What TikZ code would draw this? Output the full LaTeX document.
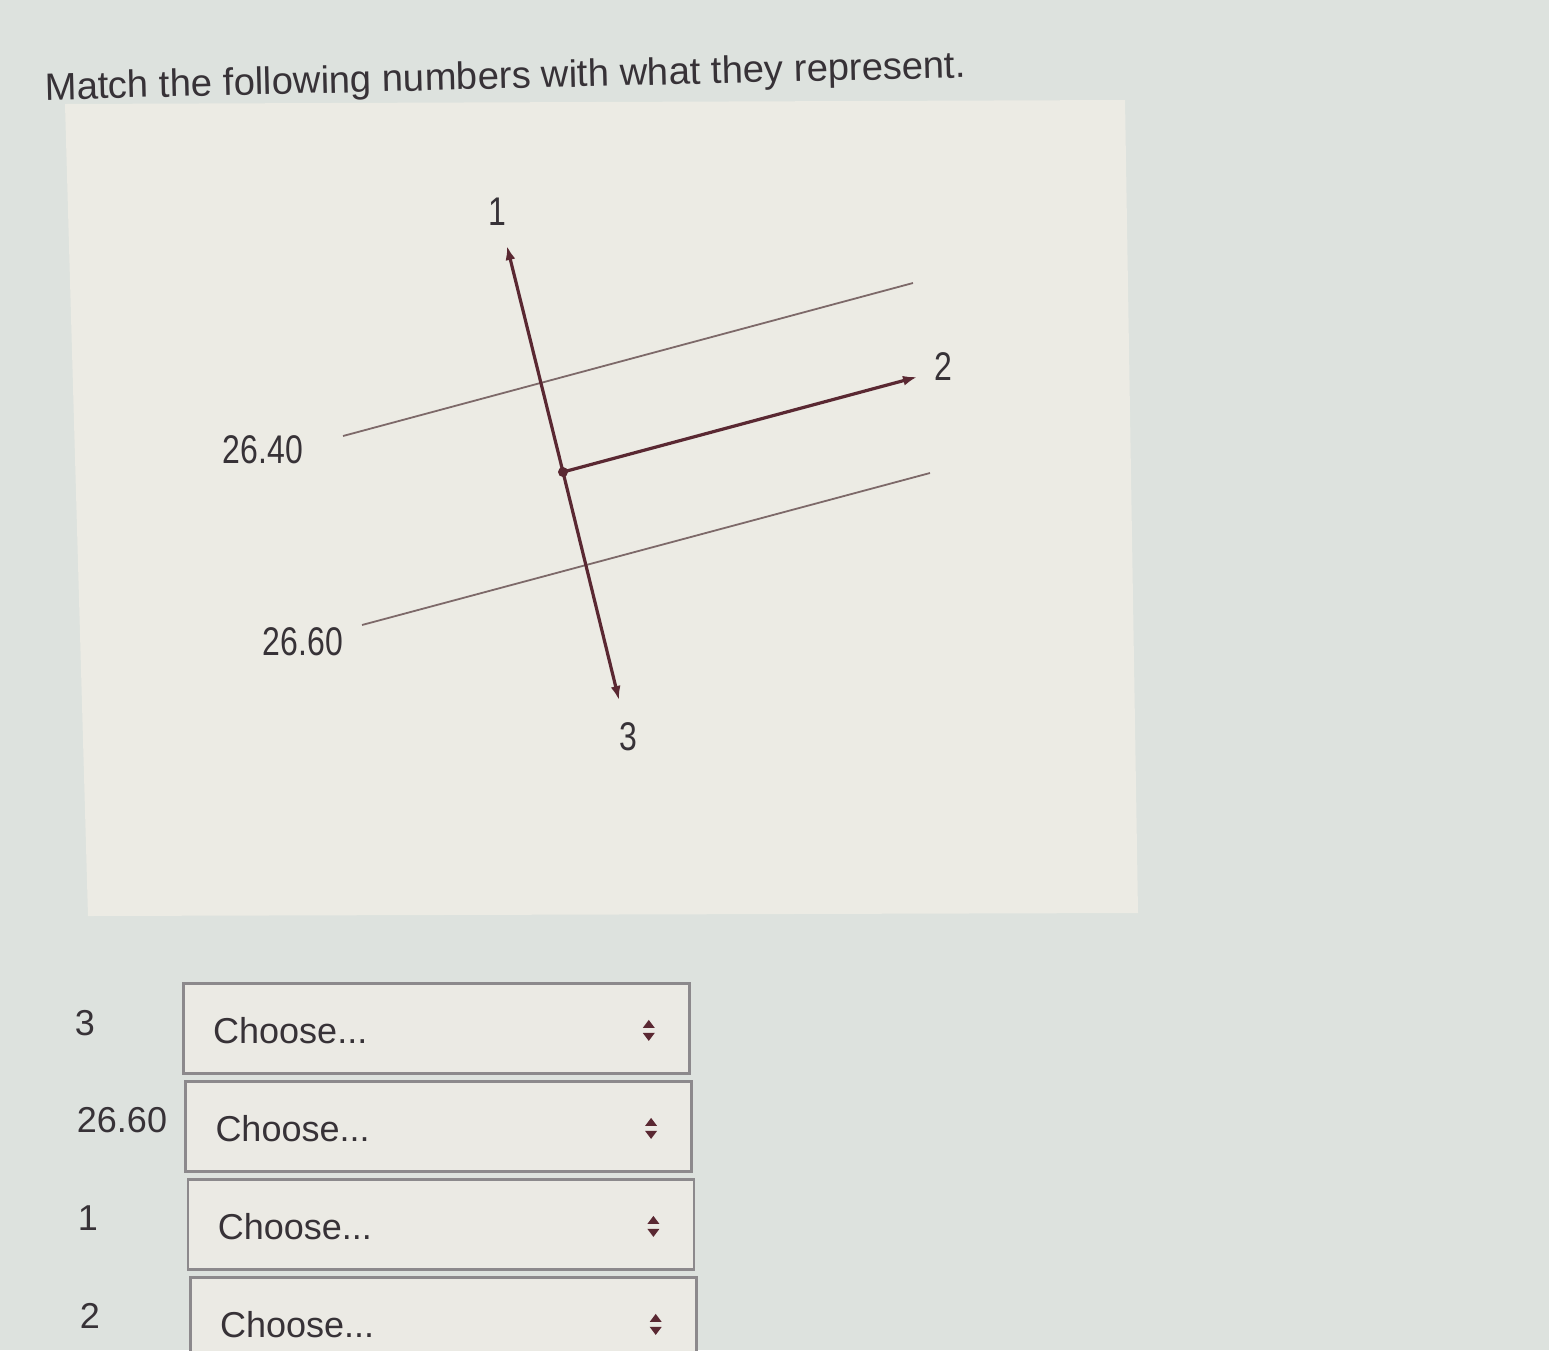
\documentclass[tikz,border=0pt]{standalone}
\usepackage{fontspec}
\setmainfont{Liberation Sans}
\newfontfamily\narrowfont[FakeStretch=0.8]{Liberation Sans}
\usetikzlibrary{arrows.meta,positioning}

\definecolor{pagebg}{RGB}{221,226,222}
\definecolor{panelbg}{RGB}{236,235,228}
\definecolor{maroon}{RGB}{90,40,50}
\definecolor{thinline}{RGB}{125,105,105}
\definecolor{boxedge}{RGB}{140,137,140}
\definecolor{boxfill}{RGB}{235,234,228}
\definecolor{txt}{RGB}{55,50,55}

\tikzset{
  numtext/.style={font=\narrowfont\fontsize{40}{48}\selectfont, text=txt, inner sep=0pt},
  rowtext/.style={font=\fontsize{36}{43}\selectfont, text=txt, inner sep=0pt},
  choosebox/.style={draw=boxedge, line width=2.8pt, fill=boxfill, minimum width=506pt, minimum height=90pt, inner sep=0pt},
  pointer/.style={maroon, line width=3.2pt, -{Latex[length=14pt,width=10pt]}},
  gridline/.style={thinline, line width=1.8pt}
}

\begin{document}
\begin{tikzpicture}[x=1pt,y=-1pt]
  \useasboundingbox (0,0) rectangle (1549,1350);
  \fill[pagebg] (0,0) rectangle (1549,1350);

  % picture panel
  \fill[panelbg] (65,104) -- (1125,100) -- (1138,913) -- (88,916) -- cycle;

  % question
  \node[anchor=base west, rotate=1.4, font=\fontsize{38.2}{46}\selectfont, text=txt, inner sep=0pt] (title) at (45,100)
    {Match the following numbers with what they represent.};

  % contour lines
  \coordinate (hiA) at (343,436);
  \coordinate (hiB) at (913,283);
  \coordinate (loA) at (362,625);
  \coordinate (loB) at (930,473);
  \draw[gridline] (hiA) -- (hiB);
  \draw[gridline] (loA) -- (loB);

  % vectors from the point
  \coordinate (jct) at (563,472);
  \coordinate (tip1) at (507,246);
  \coordinate (tip2) at (917,377);
  \coordinate (tip3) at (619,700);
  \draw[pointer] (jct) -- (tip1);
  \draw[pointer] (jct) -- (tip2);
  \draw[pointer] (jct) -- (tip3);
  \fill[maroon] (jct) circle (5);

  \node[numtext] (n1) at (497,212) {1};
  \node[numtext] (n2) at (943,367) {2};
  \node[numtext] (n3) at (628,737) {3};
  \node[numtext] (v40) at (263,450) {26.40};
  \node[numtext] (v60) at (303,642) {26.60};

  % answer rows
  \foreach \lab/\lx/\i in {3/85/0, 26.60/122/1, 1/88/2, 2/90/3} {
    \node[choosebox, anchor=north west] (box\i) at (182+2.3*\i, 982+98*\i) {};
    \node[rowtext] (row\i) at (\lx, 1023+97.5*\i) {\lab};
    \node[rowtext, anchor=west] (pick\i) at ([xshift=31pt, yshift=-2pt]box\i.west) {Choose...};
    \coordinate (updn\i) at ([xshift=-42pt, yshift=-2pt]box\i.east);
    \fill[maroon] ([yshift=2.5pt]updn\i) -- ++(-6,0) -- ++(6,-8) -- ++(6,8) -- cycle;
    \fill[maroon] ([yshift=-2.5pt]updn\i) -- ++(-6,0) -- ++(6,8) -- ++(6,-8) -- cycle;
  }
\end{tikzpicture}
\end{document}
